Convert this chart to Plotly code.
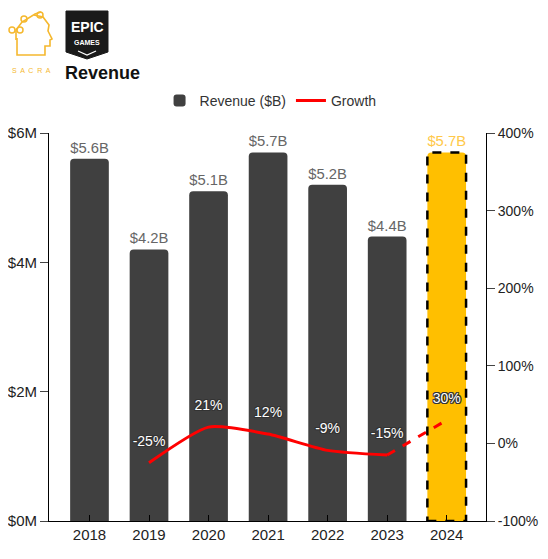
import plotly.graph_objects as go

# data
years = ["2018", "2019", "2020", "2021", "2022", "2023", "2024"]
revenue = [5.6, 4.2, 5.1, 5.7, 5.2, 4.4, 5.7]
revenue_labels = ["$5.6B", "$4.2B", "$5.1B", "$5.7B", "$5.2B", "$4.4B", "$5.7B"]
growth_years = ["2019", "2020", "2021", "2022", "2023"]
growth = [-25, 21, 12, -9, -15]
forecast_years = ["2023", "2024"]
forecast_growth = [-15, 30]
growth_label_years = ["2019", "2020", "2021", "2022", "2023", "2024"]
growth_labels = [-25, 21, 12, -9, -15, 30]

DARK = "#404040"
GOLD = "#FFBF00"
OFF = 8  # page body margin
W, H = 548 - OFF, 559 - OFF
ML, MT = 49 - OFF, 133 - OFF
MR, MB = W - (486 - OFF), H - (521 - OFF)
PW, PH = W - ML - MR, H - MT - MB


def px(x, y):
    # window pixel -> paper coords, for the logo decoration
    return (x - OFF - ML) / PW, (H - MB - (y - OFF)) / PH


bar_colors = [DARK] * (len(years) - 1) + [GOLD]
label_colors = ["#666666"] * (len(years) - 1) + ["#FFC94A"]

fig = go.Figure()
fig.add_trace(go.Bar(
    x=years, y=revenue, name="Revenue ($B)",
    marker=dict(color=bar_colors, line=dict(width=0)),
    width=0.65,
    text=revenue_labels, textposition="outside", cliponaxis=False,
    textfont=dict(size=15, color=label_colors, family="Arial"),
))
fig.add_trace(go.Scatter(
    x=growth_years, y=growth, yaxis="y2", name="Growth", mode="lines",
    line=dict(color="#FF0000", width=3, shape="spline", smoothing=0.6),
))
fig.add_trace(go.Scatter(
    x=forecast_years, y=forecast_growth, yaxis="y2", showlegend=False,
    mode="lines", line=dict(color="#FF0000", width=3, dash="dash"),
))

outline = ("-1px -1px 0 #333, 1px -1px 0 #333, -1px 1px 0 #333, 1px 1px 0 #333, "
           "0 1px 0 #333, 0 -1px 0 #333, 1px 0 0 #333, -1px 0 0 #333")
fig.add_trace(go.Scatter(
    x=growth_label_years, y=growth_labels, yaxis="y2", showlegend=False,
    mode="markers+text", marker=dict(size=20, opacity=0),
    text=[f"{g}%" for g in growth_labels], textposition="top center",
    textfont=dict(size=14, color="white", family="Arial", shadow=outline),
    cliponaxis=False, hoverinfo="skip",
))

# dashed outline on the forecast bar
fig.add_shape(type="rect", xref="x", yref="y",
              x0=len(years) - 1 - 0.325, x1=len(years) - 1 + 0.325,
              y0=0, y1=revenue[-1],
              line=dict(color="black", width=2.5, dash="dash"), fillcolor="rgba(0,0,0,0)")

# title
x0, y0 = px(63, 73)
fig.add_annotation(xref="paper", yref="paper", x=x0, y=y0, xanchor="left", yanchor="middle",
                   text="<b>Revenue</b>", showarrow=False,
                   font=dict(size=18, color="#111", family="Arial"))

# sacra logo (simplified)
xs, ys = px(31, 71)
fig.add_annotation(xref="paper", yref="paper", x=xs, y=ys, xanchor="center", yanchor="middle",
                   text="S  A  C  R  A", showarrow=False,
                   font=dict(size=7, color="#F5B82E", family="Arial"))
pts = [(17, 38), (17, 55), (45, 55), (45, 46), (50, 46), (50, 40), (52, 39), (48, 31),
       (49, 25), (43, 17), (34, 15)]
path = "M " + " L ".join(f"{px(a, b)[0]:.4f},{px(a, b)[1]:.4f}" for a, b in pts)
fig.add_shape(type="path", xref="paper", yref="paper", path=path,
              line=dict(color="#F5B82E", width=1.6))
stem = [(16, 40), (16, 30), (22, 22), (35, 14), (41, 12)]
path = "M " + " L ".join(f"{px(a, b)[0]:.4f},{px(a, b)[1]:.4f}" for a, b in stem)
fig.add_shape(type="path", xref="paper", yref="paper", path=path,
              line=dict(color="#F5B82E", width=1.6))
for cx, cy in [(12, 30), (20, 30), (24, 19), (40, 15)]:
    a0, b0 = px(cx - 3, cy - 3)
    a1, b1 = px(cx + 3, cy + 3)
    fig.add_shape(type="circle", xref="paper", yref="paper", x0=a0, y0=b0, x1=a1, y1=b1,
                  line=dict(color="#F5B82E", width=1.5))

# epic games logo (simplified)
shield = [(66, 11), (108, 11), (108, 52), (87, 59), (66, 52)]
path = "M " + " L ".join(f"{px(a, b)[0]:.4f},{px(a, b)[1]:.4f}" for a, b in shield) + " Z"
fig.add_shape(type="path", xref="paper", yref="paper", path=path,
              line=dict(color="#1a1a1a", width=1), fillcolor="#1a1a1a")
chev = [(78, 51), (87, 55), (96, 51)]
path = "M " + " L ".join(f"{px(a, b)[0]:.4f},{px(a, b)[1]:.4f}" for a, b in chev)
fig.add_shape(type="path", xref="paper", yref="paper", path=path,
              line=dict(color="white", width=1.2))
xe, ye = px(87, 27)
fig.add_annotation(xref="paper", yref="paper", x=xe, y=ye, xanchor="center", yanchor="middle",
                   text="<b>EPIC</b>", showarrow=False,
                   font=dict(size=14, color="white", family="Arial"))
xe, ye = px(87, 43)
fig.add_annotation(xref="paper", yref="paper", x=xe, y=ye, xanchor="center", yanchor="middle",
                   text="<b>GAMES</b>", showarrow=False,
                   font=dict(size=7, color="white", family="Arial"))

fig.update_layout(
    width=W, height=H,
    margin=dict(l=ML, r=MR, t=MT, b=MB, autoexpand=False),
    plot_bgcolor="white", paper_bgcolor="white",
    font=dict(family="Arial", size=14, color="#222"),
    barcornerradius=4,
    showlegend=True,
    legend=dict(orientation="h", x=0.507, xanchor="center", y=(H - MB - (101 - OFF)) / PH,
                yanchor="middle", font=dict(size=14, color="#333"), itemwidth=30),
    xaxis=dict(type="category", range=[-0.68, 6.66], showline=True, linecolor="black",
               linewidth=1, ticks="inside", ticklen=6, tickcolor="black", automargin=False,
               showgrid=False, tickfont=dict(size=15, color="#222")),
    yaxis=dict(range=[0, 6], tickvals=[0, 2, 4, 6], ticktext=["$0M", "$2M", "$4M", "$6M"],
               showline=True, linecolor="black", ticks="outside", ticklen=8, automargin=False,
               showgrid=False, zeroline=False, tickfont=dict(size=15, color="#222")),
    yaxis2=dict(range=[-100, 400], tickvals=[-100, 0, 100, 200, 300, 400],
                ticktext=["-100%", "0%", "100%", "200%", "300%", "400%"],
                overlaying="y", side="right", showline=True, linecolor="black",
                ticks="outside", ticklen=8, showgrid=False, zeroline=False, automargin=False,
                tickfont=dict(size=14, color="#222")),
)

fig.write_html("out.html")
